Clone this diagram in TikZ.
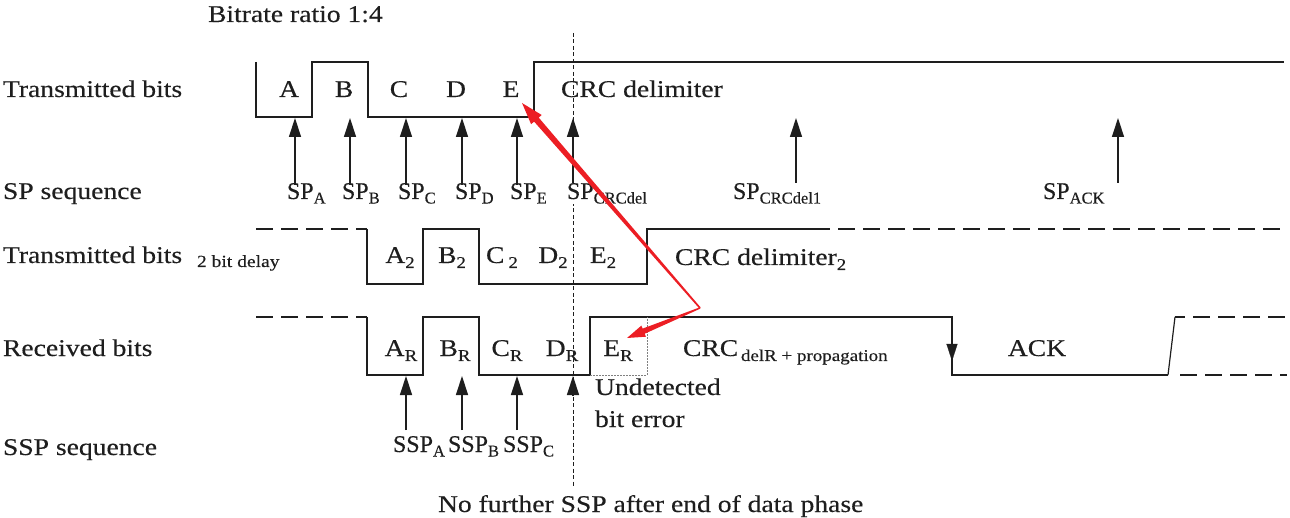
\documentclass[tikz,border=0pt]{standalone}
\usepackage{fontspec}
\setmainfont{Liberation Serif}[FakeStretch=1.15,FakeBold=0.35]
\newfontfamily\labfont{Liberation Serif}[FakeBold=0.35]
\usetikzlibrary{arrows.meta}
\definecolor{errred}{RGB}{236,30,36}
\definecolor{ink}{RGB}{30,30,30}
\newcommand\sbs[1]{\raisebox{-5pt}{\fontsize{16.5}{16}\selectfont #1}}
\newcommand\lsbs[1]{\raisebox{-4.5pt}{\labfont\fontsize{16.5}{16}\selectfont #1}}
\tikzset{
  every node/.style={inner sep=0pt, outer sep=0pt, text=ink, font=\fontsize{24}{28}\selectfont},
  lbl/.style={anchor=base},
  lblw/.style={anchor=base west},
  splab/.style={anchor=base west, font=\labfont\fontsize{24}{28}\selectfont},
  sig/.style={line width=2.6pt, line join=miter, draw=ink},
  sigdash/.style={sig, dash pattern=on 17pt off 8pt},
  sparrow/.style={line width=1.3pt, draw=ink, -{Triangle[length=19pt,width=12pt]}},
  vdash/.style={line width=1pt, draw=ink, dash pattern=on 4pt off 2.5pt},
  dotbox/.style={line width=0.8pt, draw=gray, dash pattern=on 1.5pt off 1.5pt},
  redfill/.style={fill=errred, draw=none}
}
\begin{document}
\begin{tikzpicture}[x=1pt,y=-1pt]
\useasboundingbox (0,0) rectangle (1290,518);

% dashed vertical marker
\coordinate (vtop) at (573,33);
\coordinate (vbot) at (573,487);
\draw[vdash] (vtop) -- (vbot);

% title and row labels
\node[lblw] (title) at (208,22) {Bitrate ratio 1:4};
\node[lblw] (r1) at (3,97) {Transmitted bits};
\node[lblw] (r2) at (3,199) {SP sequence};
\node[lblw] (r3) at (3,263) {Transmitted bits};
\node[lblw, font=\fontsize{17}{17}\selectfont] (r3s) at (197,267) {2 bit delay};
\node[lblw] (r4) at (3,356) {Received bits};
\node[lblw] (r5) at (3,455) {SSP sequence};

% row 1 signal
\draw[sig] (256,62) -- (256,117) -- (312,117) -- (312,62) -- (368,62) -- (368,117)
  -- (534,117) -- (534,62) -- (1284,62);
\node[lbl] (tA) at (289,97) {A};
\node[lbl] (tB) at (344,97) {B};
\node[lbl] (tC) at (399,97) {C};
\node[lbl] (tD) at (456,97) {D};
\node[lbl] (tE) at (511,97) {E};
\node[lblw] (tCRC) at (561,97) {CRC delimiter};

% SP arrows
\foreach \x/\n in {295/A,350/B,406/C,462/D,517/E,573/F}{
  \coordinate (sp\n b) at (\x,185);
  \coordinate (sp\n t) at (\x,118);
  \draw[sparrow] (sp\n b) -- (sp\n t);
}
\foreach \x/\n in {796/G,1118/H}{
  \coordinate (sp\n b) at (\x,183);
  \coordinate (sp\n t) at (\x,118);
  \draw[sparrow] (sp\n b) -- (sp\n t);
}
\node[splab] (lA) at (287,199) {SP\lsbs{A}};
\node[splab] (lB) at (342,199) {SP\lsbs{B}};
\node[splab] (lC) at (398,199) {SP\lsbs{C}};
\node[splab] (lD) at (455,199) {SP\lsbs{D}};
\node[splab] (lE) at (510,199) {SP\lsbs{E}};
\node[splab, fill=white] (lF) at (567,199) {SP\lsbs{CRCdel}};
\node[splab] (lG) at (733,199) {SP\lsbs{CRCdel1}};
\node[splab] (lH) at (1043,199) {SP\lsbs{ACK}};

% row 2 signal (2 bit delay)
\draw[sigdash] (256,229) -- (367,229);
\draw[sig] (367,229) -- (367,284) -- (423,284) -- (423,229) -- (479,229) -- (479,284)
  -- (647,284) -- (647,229) -- (813,229);
\draw[sigdash] (813,229) -- (1287,229);
\node[lbl] (dA) at (400,263) {A\sbs{2}};
\node[lbl] (dB) at (452,263) {B\sbs{2}};
\node[lbl] (dC) at (502,263) {C\,\sbs{2}};
\node[lbl] (dD) at (553,263) {D\sbs{2}};
\node[lbl] (dE) at (603,263) {E\sbs{2}};
\node[lblw] (dCRC) at (675,265) {CRC delimiter\sbs{2}};

% row 3 signal (received)
\draw[sigdash] (256,317) -- (367,317);
\draw[sig] (367,317) -- (367,375) -- (423,375) -- (423,317) -- (479,317) -- (479,375)
  -- (590,375) -- (590,317) -- (952,317) -- (952,375) -- (1168,375);
\draw[line width=1.2pt, draw=ink] (1168,375) -- (1175,317);
\draw[sig] (1175,317) -- (1185,317);
\draw[sigdash] (1193,317) -- (1287,317);
\draw[sigdash] (1180,375) -- (1287,375);
\coordinate (dnb) at (952,340);
\coordinate (dnt) at (952,361);
\draw[line width=0.1pt, draw=ink, -{Triangle[length=17pt,width=11pt]}] (dnb) -- (dnt);
\draw[dotbox] (590,375) -- (647,375) -- (647,317);
\node[lbl] (rA) at (401,356) {A\sbs{R}};
\node[lbl] (rB) at (455,356) {B\sbs{R}};
\node[lbl] (rC) at (507,356) {C\sbs{R}};
\node[lbl] (rD) at (562,356) {D\sbs{R}};
\node[lbl] (rE) at (618,356) {E\sbs{R}};
\node[lblw] (rCRC) at (683,356) {CRC\sbs{\,delR + propagation}};
\node[lbl] (rACK) at (1037,356) {ACK};
\node[lblw] (und1) at (595,395) {Undetected};
\node[lblw] (und2) at (595,427) {bit error};

% SSP arrows
\foreach \x/\n in {406/A,462/B,517/C}{
  \coordinate (ssp\n b) at (\x,430);
  \coordinate (ssp\n t) at (\x,376);
  \draw[sparrow] (ssp\n b) -- (ssp\n t);
}
\coordinate (sspEb) at (573,395);
\coordinate (sspEt) at (573,376);
\draw[sparrow] (sspEb) -- (sspEt);
\node[splab] (sA) at (393,452) {SSP\lsbs{A}};
\node[splab] (sB) at (448,452) {SSP\lsbs{B}};
\node[splab] (sC) at (503,452) {SSP\lsbs{C}};

\node[lblw] (nofurther) at (438,512) {No further SSP after end of data phase};

% red error arrow (tapered)
\fill[redfill] (700.6,307.4) -- (538.7,117.6) -- (541.7,115.0) -- (522,103)
  -- (531.1,124.2) -- (534.1,121.6) -- (699.4,308.6) -- cycle;
\fill[redfill] (699.6,307.4) -- (642.6,328.6) -- (641.37,325.61) -- (627,338)
  -- (645.93,336.71) -- (644.7,333.7) -- (700.4,308.6) -- cycle;
\end{tikzpicture}
\end{document}
